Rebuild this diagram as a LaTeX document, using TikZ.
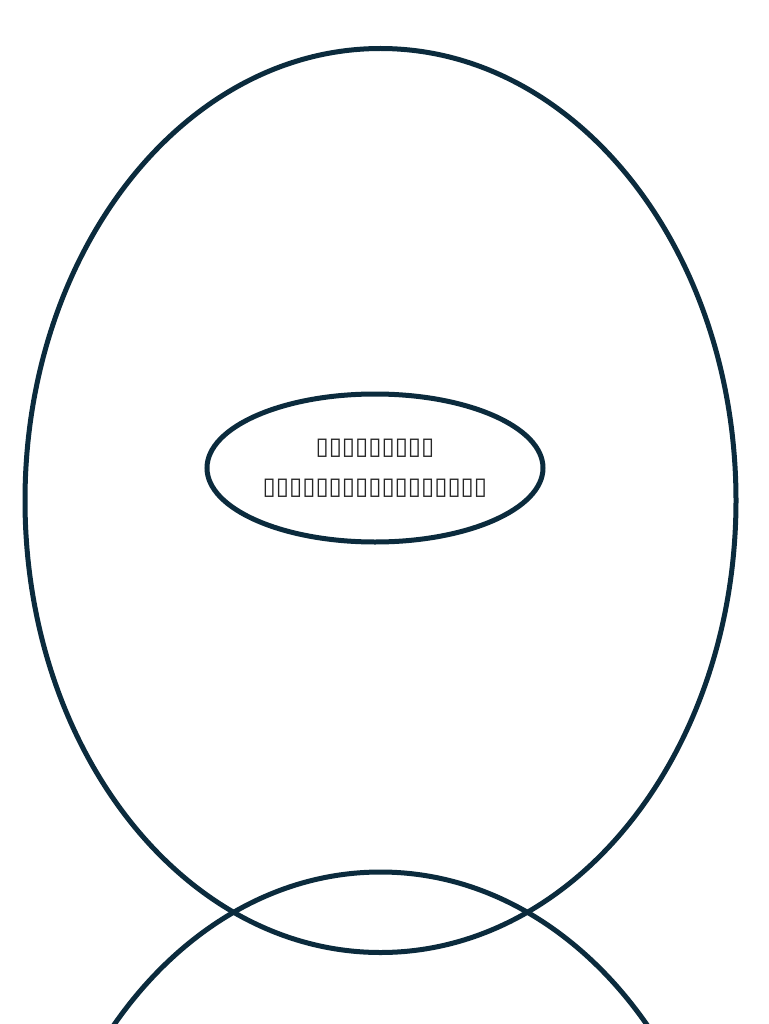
\documentclass[tikz,border=0pt]{standalone}
\usepackage{fontspec}
\setmainfont{DejaVu Sans}
\usetikzlibrary{shapes.geometric,positioning}
\definecolor{rim}{HTML}{0B2B3D}

\begin{document}
\begin{tikzpicture}[x=1pt,y=1pt,
      blob/.style={ellipse, draw=rim, line width=5pt, inner sep=0pt},
      label/.style={ellipse, draw=rim, line width=5pt, inner sep=0pt, minimum width=336pt, minimum height=148pt, align=center, font=\fontsize{24}{40}\selectfont, text=black!85}]

\clip (0,0) rectangle (768,-1024);
\fill[white] (0,0) rectangle (768,-1024);

\node[blob,minimum width=711pt,minimum height=904pt] (outer) at (380.5,-500.5) {};
\node[blob,minimum width=711pt,minimum height=904pt] (lower) at (380.5,-1324) {};
\node[label] (core) at (375,-468) {▯▯▯▯▯▯▯▯▯\\▯▯▯▯▯▯▯▯▯▯▯▯▯▯▯▯▯};

\end{tikzpicture}
\end{document}
